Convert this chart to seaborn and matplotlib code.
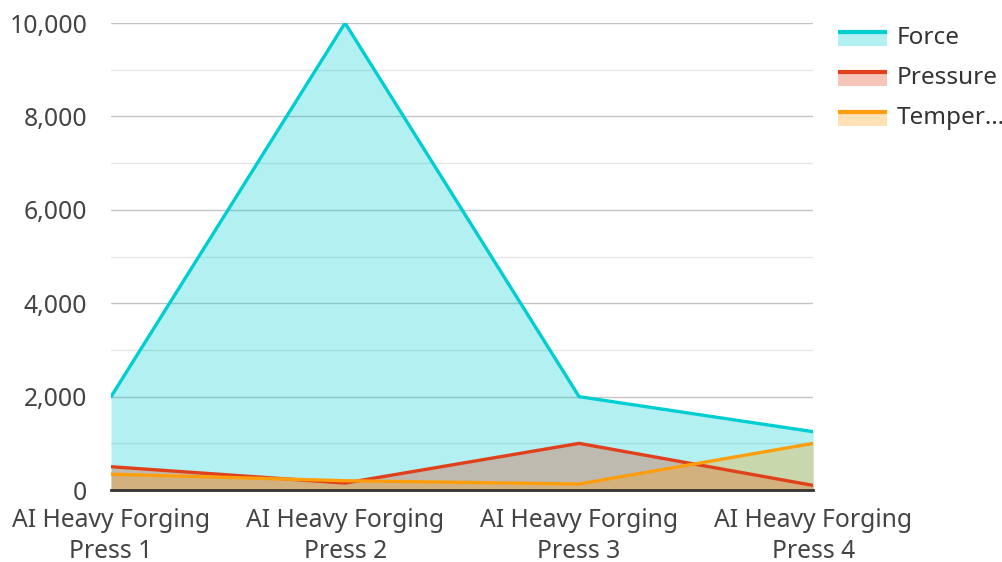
import matplotlib
matplotlib.use("Agg")
import matplotlib.pyplot as plt
import seaborn as sns
import pandas as pd
from matplotlib.legend_handler import HandlerBase
from matplotlib.patches import Rectangle
from matplotlib.lines import Line2D
from matplotlib.ticker import FuncFormatter, MultipleLocator

machines = ["AI Heavy Forging\nPress 1", "AI Heavy Forging\nPress 2",
            "AI Heavy Forging\nPress 3", "AI Heavy Forging\nPress 4"]
force = [2000, 10000, 2000, 1250]
pressure = [500, 150, 1000, 100]
temperature = [340, 200, 130, 1000]

series = ["Force", "Pressure", "Temperature"]
colors = {"Force": "#00CED1", "Pressure": "#E0401A", "Temperature": "#FF9E0D"}
legend_labels = ["Force", "Pressure", "Temper\u2026"]

df = pd.DataFrame({
    "x": list(range(len(machines))) * 3,
    "value": force + pressure + temperature,
    "series": ["Force"] * 4 + ["Pressure"] * 4 + ["Temperature"] * 4,
})

sns.set_style("white")
plt.rcParams["font.family"] = ["Noto Sans", "DejaVu Sans"]

fig = plt.figure(figsize=(10.03, 5.62), dpi=100)
ax = fig.add_axes([0.1107, 0.128, 0.70, 0.831])

for name in series:
    sub = df[df["series"] == name]
    ax.fill_between(sub["x"], sub["value"], 0, color=colors[name], alpha=0.3, linewidth=0, zorder=1)

sns.lineplot(data=df, x="x", y="value", hue="series", palette=colors, linewidth=2.4,
             legend=False, ax=ax, zorder=3)

ax.set_xlim(0, 3)
ax.set_ylim(0, 10000)
ax.set_xticks(range(len(machines)))
ax.set_xticklabels(machines, linespacing=1.3)
ax.yaxis.set_major_locator(MultipleLocator(2000))
ax.yaxis.set_minor_locator(MultipleLocator(1000))
ax.yaxis.set_major_formatter(FuncFormatter(lambda v, p: f"{int(v):,}"))
ax.grid(which="major", axis="y", color="#c4c4c4", linewidth=1)
ax.grid(which="minor", axis="y", color="#e6e6e6", linewidth=1)
ax.grid(axis="x", visible=False)
ax.set_axisbelow(True)
ax.tick_params(axis="both", which="both", length=0, labelsize=17.8, labelcolor="#444444")
ax.tick_params(axis="y", pad=17)
ax.tick_params(axis="x", pad=13)
ax.set_xlabel("")
ax.set_ylabel("")
for s in ["top", "right", "left"]:
    ax.spines[s].set_visible(False)
ax.spines["bottom"].set_color("#333333")
ax.spines["bottom"].set_linewidth(2)
ax.spines["bottom"].set_zorder(5)


class AreaHandler(HandlerBase):
    def create_artists(self, legend, orig, xd, yd, w, h, fs, trans):
        c = orig.get_color()
        rect = Rectangle((-xd, -yd - h * 0.15), w, h * 0.85, facecolor=c, alpha=0.3,
                         edgecolor="none", transform=trans)
        top = -yd + h * 0.7
        line = Line2D([-xd, -xd + w], [top, top], color=c,
                      linewidth=3, solid_capstyle="butt", transform=trans)
        return [rect, line]


handles = [Line2D([], [], color=colors[n]) for n in series]
leg = fig.legend(handles, legend_labels, handler_map={Line2D: AreaHandler()},
                 loc="upper left", bbox_to_anchor=(0.8355, 0.954), frameon=False,
                 fontsize=17.5, handlelength=2.0, handleheight=0.7, handletextpad=0.4,
                 labelspacing=0.66, borderpad=0, borderaxespad=0, labelcolor="#333333")

fig.savefig("out.png", dpi=100)
